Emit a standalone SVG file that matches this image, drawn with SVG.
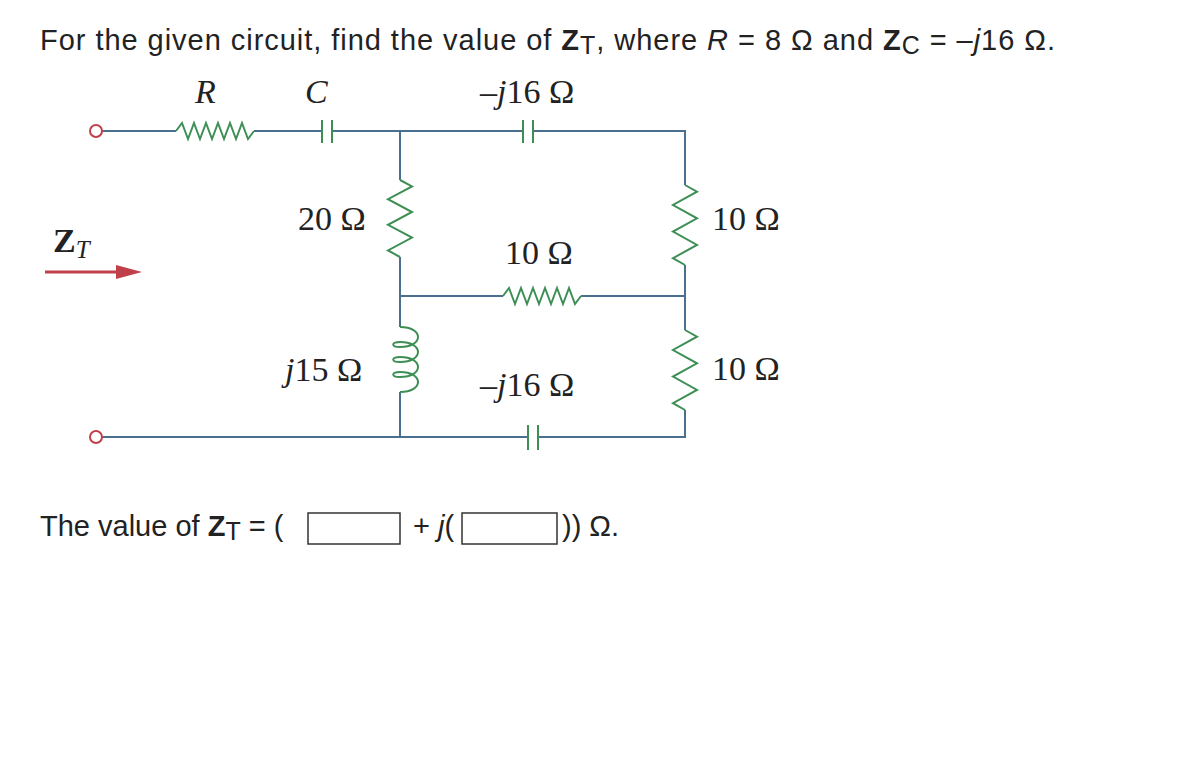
<svg xmlns="http://www.w3.org/2000/svg" width="1200" height="766" viewBox="0 0 1200 766">
<style>
.w{stroke:#4a6f8f;stroke-width:2;fill:none}
.g{stroke:#3d8f55;stroke-width:2;fill:none}
.t{font-family:"Liberation Serif",serif;font-size:34px;fill:#222}
.s{font-family:"Liberation Sans",Arial,sans-serif;font-size:29px;fill:#222}
</style>
<rect width="1200" height="766" fill="#fff"/>
<text class="s" x="40" y="50" textLength="1015">For the given circuit, find the value of <tspan font-weight="bold">Z</tspan><tspan baseline-shift="-4" font-size="25">T</tspan>, where <tspan font-style="italic">R</tspan> = 8 Ω and <tspan font-weight="bold">Z</tspan><tspan baseline-shift="-4" font-size="25">C</tspan> = –<tspan font-style="italic">j</tspan>16 Ω.</text>
<g id="connectors">
<path class="w" d="M102 131H176M254 131H322M332 131H523M533 131H685V185M685 265V330M685 410V437H538M528 437H102M400 131V180M400 257V296V327M400 392V437M400 296H503M581 296H685"/>
</g>
<g id="terminals" fill="#fff" stroke="#c0404a" stroke-width="2">
<circle cx="96" cy="131" r="6"/><circle cx="96" cy="437" r="6"/>
</g>
<g id="R"><path class="g" d="M176 131l6 -8l6 16l6 -16l6 16l6 -16l6 16l6 -16l6 16l6 -16l6 16l6 -16l6 16l6 -8"/><text class="t" x="195" y="103" font-style="italic">R</text></g>
<g id="C"><path class="g" d="M322 120V143M332 120V143"/><text class="t" x="305" y="103" font-style="italic">C</text></g>
<g id="Ctop"><path class="g" d="M523 120V143M533 120V143"/><text class="t" x="480" y="103">–<tspan font-style="italic">j</tspan>16 Ω</text></g>
<g id="R20"><path class="g" d="M400 180l12 6.4l-24 12.8l24 12.8l-24 12.8l24 12.8l-24 12.8l12 6.6"/><text class="t" x="298" y="230">20 Ω</text></g>
<g id="L"><path class="g" d="M400 327c24 0 24 20 0 20c-9 0-9-5 0-5c24 0 24 20 0 20c-9 0-9-5 0-5c24 0 24 20 0 20c-9 0-9-5 0-5c24 0 24 20 0 20"/><text class="t" x="285" y="381"><tspan font-style="italic">j</tspan>15 Ω</text></g>
<g id="R10m"><path class="g" d="M503 296l6 -8l6 16l6 -16l6 16l6 -16l6 16l6 -16l6 16l6 -16l6 16l6 -16l6 16l6 -8"/><text class="t" x="505" y="264">10 Ω</text></g>
<g id="R10a"><path class="g" d="M685 185l12 6.7l-24 13.3l24 13.3l-24 13.3l24 13.3l-24 13.3l12 6.8"/><text class="t" x="712" y="230">10 Ω</text></g>
<g id="R10b"><path class="g" d="M685 330l12 6.7l-24 13.3l24 13.3l-24 13.3l24 13.3l-24 13.3l12 6.8"/><text class="t" x="712" y="380">10 Ω</text></g>
<g id="Cbot"><path class="g" d="M528 425V450M538 425V450"/><text class="t" x="480" y="396">–<tspan font-style="italic">j</tspan>16 Ω</text></g>
<g id="ZT"><text class="t" x="53" y="252" font-weight="bold">Z<tspan font-style="italic" font-weight="normal" font-size="25" baseline-shift="-6">T</tspan></text>
<path d="M45 272H120" stroke="#c0404a" stroke-width="3"/><path d="M116 265L142 272L116 279Z" fill="#c0404a"/></g>
<g id="answer">
<text class="s" x="40" y="536">The value of <tspan font-weight="bold">Z</tspan><tspan baseline-shift="-4" font-size="25">T</tspan> = (</text>
<rect x="308" y="513" width="92" height="31" fill="#fff" stroke="#333" stroke-width="1.5"/>
<text class="s" x="413" y="536">+ <tspan font-style="italic">j</tspan>(</text>
<rect x="462" y="513" width="95" height="31" fill="#fff" stroke="#333" stroke-width="1.5"/>
<text class="s" x="562" y="536">)) Ω.</text>
</g>
</svg>
